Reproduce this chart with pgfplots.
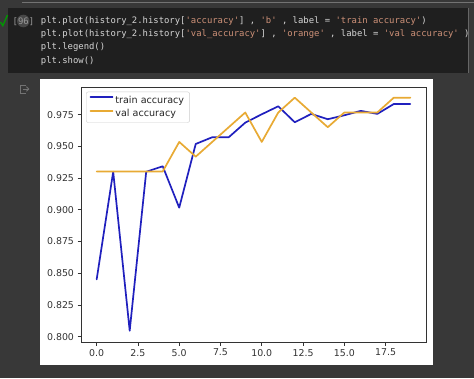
\documentclass[border=0pt]{standalone}
\usepackage{fontspec}
\setmainfont{DejaVu Sans}
\newfontfamily\codefont{DejaVu Sans Mono}
\usepackage{pgfplots}
\pgfplotsset{compat=1.18}
\definecolor{bgout}{HTML}{383838}
\definecolor{cellbg}{HTML}{1F1F1F}
\definecolor{codetxt}{HTML}{D6D6D6}
\definecolor{codestr}{HTML}{CE9178}
\definecolor{execgray}{HTML}{9A9A9A}
\definecolor{trainblue}{RGB}{32,32,190}
\definecolor{valorange}{RGB}{232,170,52}
\newcommand{\q}{\textquotesingle}
\newcommand{\s}[1]{\textcolor{codestr}{#1}}

\pgfplotstableread{
ep train val
0  0.8452 0.9302
1  0.9300 0.9302
2  0.8047 0.9302
3  0.9300 0.9302
4  0.9343 0.9302
5  0.9017 0.9535
6  0.9519 0.9419
7  0.9572 0.9535
8  0.9572 0.9651
9  0.9687 0.9767
10 0.9753 0.9535
11 0.9816 0.9767
12 0.9690 0.9884
13 0.9756 0.9767
14 0.9714 0.9651
15 0.9745 0.9767
16 0.9780 0.9767
17 0.9756 0.9767
18 0.9834 0.9884
19 0.9834 0.9884
}\acc

\begin{document}
\begin{tikzpicture}[x=1pt,y=1pt]
\path[use as bounding box] (0,0) rectangle (474,378);
\fill[bgout] (0,0) rectangle (474,378);
\draw[black!55, line width=0.8] (22,375.3) -- (474,375.3);
\fill[cellbg] (8,305) rectangle (468,370);
\draw[black!60, line width=0.6] (468,305) -- (468,370);
% check mark
\draw[green!60!black, line width=1.3] (0.5,356) -- (2.8,352.3) -- (7.5,363);
% execution count
\fill[black!72] (23.3,357) circle (6.3);
\node[anchor=base west, inner sep=0, text=execgray] at (12.5,353.8) {\codefont\fontsize{8.9}{10}\selectfont [96]};
% code
\begin{scope}[every node/.style={anchor=base west, inner sep=0, text=codetxt, font=\codefont\fontsize{8.9}{10}\selectfont}]
\node at (40.7,354.7) {plt.plot(history\_2.history[\s{\q accuracy\q}] , \s{\q b\q} , label = \s{\q train accuracy\q})};
\node at (40.7,341.3) {plt.plot(history\_2.history[\s{\q val\_accuracy\q}] , \s{\q orange\q} , label = \s{\q val accuracy\q} )};
\node at (40.7,328.0) {plt.legend()};
\node at (40.7,314.7) {plt.show()};
\end{scope}
% output icon
\draw[black!55, line width=0.9] (26,293) -- (20,293) -- (20,285) -- (26,285);
\draw[black!55, line width=0.9] (22.5,289) -- (28.5,289);
\draw[black!55, line width=0.9] (26.5,291.3) -- (28.7,289) -- (26.5,286.7);
% figure panel
\fill[white] (40,13) rectangle (433,299);
\begin{axis}[
  at={(81pt,36pt)}, anchor=south west, scale only axis,
  width=345pt, height=255pt,
  xmin=-0.95, xmax=19.95, ymin=0.7958, ymax=0.9968,
  xtick={0,2.5,5,7.5,10,12.5,15,17.5},
  xticklabels={0.0,2.5,5.0,7.5,10.0,12.5,15.0,17.5},
  ytick={0.8,0.825,0.85,0.875,0.9,0.925,0.95,0.975},
  yticklabels={0.800,0.825,0.850,0.875,0.900,0.925,0.950,0.975},
  tick align=outside, tick pos=left,
  major tick length=3.5pt,
  axis line style={black!80, line width=0.8pt},
  every tick/.style={black!80, line width=0.8pt},
  tick label style={font=\fontsize{9.4}{11}\selectfont, text=black!80},
  legend cell align=left,
  legend image code/.code={\draw[#1, line width=1.7pt] (0pt,3pt) -- (22pt,3pt);},
  legend style={at={(rel axis cs:0.0145,0.9816)}, anchor=north west,
    draw=black!20, fill=white, rounded corners=2pt,
    font=\fontsize{9.6}{11}\selectfont, text=black!85,
    inner xsep=3.5pt, inner ysep=2pt, row sep=1pt,
    nodes={inner sep=2pt}},
]
\addplot[trainblue, line width=1.7pt, line join=round, line cap=round] table[x=ep, y=train] {\acc};
\addlegendentry{train accuracy}
\addplot[valorange, line width=1.7pt, line join=round, line cap=round] table[x=ep, y=val] {\acc};
\addlegendentry{val accuracy}
\end{axis}
\end{tikzpicture}
\end{document}
